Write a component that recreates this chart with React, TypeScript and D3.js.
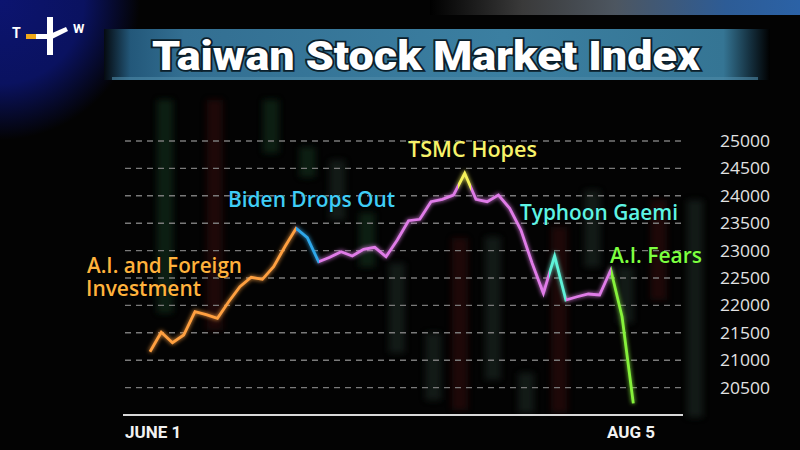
import * as d3 from "d3";

// daily closes, June 1 -> Aug 5
const closes = [
  21155, 21509, 21319, 21460, 21885, 21830, 21764, 22067, 22341, 22513, 22476,
  22706, 23071, 23407, 23235, 22797, 22878, 22980, 22901, 23024, 23060, 22888,
  23193, 23545, 23571, 23892, 23936, 24014, 24411, 23936, 23892, 24014, 23772,
  23376, 22768, 22221, 22901, 22098, 22158, 22208, 22190, 22646, 21793, 20213,
];

// colour bands along the line (by day index)
const bandStart = [0, 13, 15, 27.4, 28.6, 35.5, 37, 41];
const bandColor = [
  "#ffa040", "#2fa8ea", "#e07ce8", "#f6f25a", "#e07ce8", "#5ef2d8", "#e07ce8", "#86f23a",
];

const yTicks = [20500, 21000, 21500, 22000, 22500, 23000, 23500, 24000, 24500, 25000];
const xLabels = ["JUNE 1", "AUG 5"];

// annotation text, the level its baseline sits at, and its width in the picture
const noteLines = [["A.I. and Foreign", "Investment"], ["Biden Drops Out"], ["TSMC Hopes"], ["Typhoon Gaemi"], ["A.I. Fears"]];
const noteLevel = [22590, 23800, 24710, 23560, 22775];
const noteWidth = [[155, 115], [167], [129], [158], [92]];
const noteColor = ["#ffb23c", "#3fcdf6", "#f7f26a", "#5ef4e4", "#7dff40"];

// faint candles in the backdrop
const candleSlot = [0, 1.5, 3.2, 4.3, 5.2, 6.1, 7, 8.1, 8.9, 9.9, 10.9, 11.9, 12.9, 13.9, 14.9, 16];
const candleTop = [25750, 25750, 25750, 24890, 24650, 23690, 22770, 21500, 23230, 23250, 20770, 23430, 24100, 22700, 23920, 23920];
const candleBottom = [21860, 21550, 24780, 24340, 23560, 22700, 21130, 20270, 20090, 20640, 20040, 20040, 22700, 21680, 22100, 19960];
const candleKind = ["g", "r", "g", "g", "n", "g", "n", "n", "r", "n", "n", "r", "n", "n", "r", "n"];

const W = 800;
const H = 450;

export default function App() {
  const x = d3.scaleLinear().domain([0, closes.length - 1]).range([150, 633.3]);
  const y = d3.scaleLinear().domain([20000, 25000]).range([415, 141]);
  const cx = d3.scaleLinear().domain([0, 16]).range([165, 695]);

  const line = d3
    .line<number>()
    .x((_, i) => x(i))
    .y((d) => y(d));

  const x0 = x(0);
  const x1 = x(closes.length - 1);
  const stops: { off: number; color: string }[] = [];
  bandStart.forEach((s, i) => {
    const end = i < bandStart.length - 1 ? bandStart[i + 1] : closes.length - 1;
    stops.push({ off: (x(s) - x0) / (x1 - x0), color: bandColor[i] });
    stops.push({ off: (x(end) - x0) / (x1 - x0), color: bandColor[i] });
  });

  const candleFill: Record<string, string> = { g: "#143a20", r: "#3a1111", n: "#24302a" };
  const noteX = [87, 228, 408, 520, 610];

  return (
    <svg
      width={W}
      height={H}
      style={{ position: "absolute", left: 0, top: 0, background: "#030303" }}
    >
      <defs>
        <radialGradient id="navy" cx="0" cy="0" r="1" gradientUnits="userSpaceOnUse"
          gradientTransform="translate(0,0) scale(140,140)">
          <stop offset="0" stopColor="#0c1470" />
          <stop offset="0.6" stopColor="#0a1260" />
          <stop offset="1" stopColor="#0a1260" stopOpacity="0" />
        </radialGradient>
        <linearGradient id="topband" x1="0" x2="1" y1="0" y2="0">
          <stop offset="0" stopColor="#000" />
          <stop offset="0.25" stopColor="#3a3a3a" />
          <stop offset="0.5" stopColor="#4d5660" />
          <stop offset="0.8" stopColor="#2d5c96" />
          <stop offset="1" stopColor="#2b62a6" />
        </linearGradient>
        <linearGradient id="banner" x1="0" x2="1" y1="0" y2="0">
          <stop offset="0" stopColor="#050a10" />
          <stop offset="0.04" stopColor="#23587a" />
          <stop offset="0.12" stopColor="#336f92" />
          <stop offset="0.6" stopColor="#3b7fa1" />
          <stop offset="0.93" stopColor="#357594" />
          <stop offset="0.97" stopColor="#15303f" />
          <stop offset="1" stopColor="#000" />
        </linearGradient>
        <linearGradient id="lineGrad" gradientUnits="userSpaceOnUse" x1={x0} x2={x1} y1={0} y2={0}>
          {stops.map((s, i) => (
            <stop key={i} offset={s.off} stopColor={s.color} />
          ))}
        </linearGradient>
        <filter id="glow" x="-10%" y="-10%" width="120%" height="120%">
          <feGaussianBlur stdDeviation="2.2" result="b" />
          <feMerge>
            <feMergeNode in="b" />
            <feMergeNode in="SourceGraphic" />
          </feMerge>
        </filter>
        <filter id="soft">
          <feGaussianBlur stdDeviation="3" />
        </filter>
      </defs>

      {/* backdrop */}
      <rect width={W} height={H} fill="#030303" />
      <rect width={220} height={180} fill="url(#navy)" />
      <rect x={430} y={0} width={370} height={15} fill="url(#topband)" />

      <g filter="url(#soft)" opacity={0.5}>
        {candleSlot.map((s, i) => (
          <rect
            key={i}
            x={cx(s) - 8}
            y={y(candleTop[i])}
            width={16}
            height={y(candleBottom[i]) - y(candleTop[i])}
            fill={candleFill[candleKind[i]]}
          />
        ))}
      </g>

      {/* title */}
      <rect x={104} y={29} width={666} height={51} fill="url(#banner)" />
      <rect x={112} y={77} width={646} height={3} fill="#4f8aa8" opacity={0.6} />
      <text
        x={152}
        y={70}
        textLength={548}
        lengthAdjust="spacingAndGlyphs"
        fontFamily="Roboto, 'Open Sans', sans-serif"
        fontWeight={900}
        fontSize={40}
        fill="#ffffff"
        stroke="#0b1f2c"
        strokeWidth={3.5}
        paintOrder="stroke"
      >
        Taiwan Stock Market Index
      </text>

      {/* logo */}
      <g fontFamily="Roboto, sans-serif" fontWeight={700} fill="#fff">
        <text x={12} y={38} fontSize={14}>T</text>
        <rect x={26} y={34} width={10} height={5} fill="#f0a81a" />
        <rect x={36} y={34} width={12} height={5} />
        <rect x={47} y={17} width={6} height={38} />
        <path d="M50,34 L66,27 L68,31 L52,39 Z" />
        <text x={73} y={33} fontSize={13}>W</text>
      </g>

      {/* grid */}
      <g>
        {yTicks.map((t) => (
          <line
            key={t}
            x1={125}
            x2={683}
            y1={y(t)}
            y2={y(t)}
            stroke="#7a7a7a"
            strokeWidth={1.4}
            strokeDasharray="6 5"
          />
        ))}
        <line x1={123} x2={683} y1={y(20000)} y2={y(20000)} stroke="#d8d8d8" strokeWidth={2.2} />
      </g>

      {/* y tick labels */}
      <g fontFamily="'Open Sans', sans-serif" fontSize={17} fill="#e2e2e2">
        {yTicks.map((t) => (
          <text key={t} x={720} y={y(t)} dy="0.35em" textLength={50} lengthAdjust="spacingAndGlyphs">
            {t}
          </text>
        ))}
      </g>

      {/* x labels */}
      <g fontFamily="Roboto, sans-serif" fontWeight={700} fontSize={17} fill="#f2f2f2">
        <text x={125} y={438}>{xLabels[0]}</text>
        <text x={655} y={438} textAnchor="end">{xLabels[1]}</text>
      </g>

      {/* index line */}
      <path
        d={line(closes) ?? ""}
        fill="none"
        stroke="url(#lineGrad)"
        strokeWidth={2.8}
        strokeLinejoin="miter"
        filter="url(#glow)"
      />

      {/* annotations (multi-line ones wrapped with tspans) */}
      <g fontFamily="'Open Sans', sans-serif" fontWeight={600} fontSize={21}>
        {noteLines.map((lines, i) => (
          <text
            key={i}
            fill={noteColor[i]}
            stroke="#000"
            strokeWidth={0.6}
            paintOrder="stroke"
          >
            {lines.map((l, j) => (
              <tspan
                key={j}
                x={noteX[i] - (j > 0 ? 1 : 0)}
                y={y(noteLevel[i]) + j * 22.5}
                textLength={noteWidth[i][j]}
                lengthAdjust="spacingAndGlyphs"
              >
                {l}
              </tspan>
            ))}
          </text>
        ))}
      </g>
    </svg>
  );
}
